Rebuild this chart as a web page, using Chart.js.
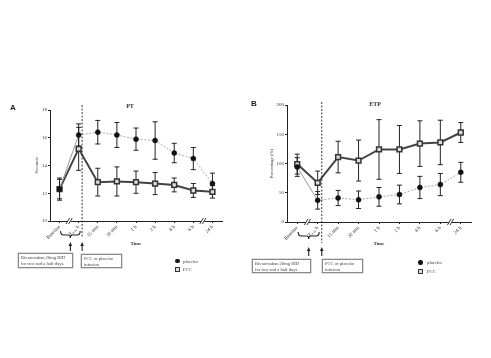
<!DOCTYPE html>
<html>
<head>
<meta charset="utf-8">
<script src="https://cdn.jsdelivr.net/npm/chart.js@4.4.1/dist/chart.umd.min.js"></script>
<style>
  body { margin: 0; background: #fff; }
  #page { position: relative; width: 491px; height: 358px; overflow: hidden; font-family: "Liberation Serif", serif; color: #333; }
  .abs { position: absolute; }
  .panel { position: absolute; top: 0; }
  .letter { font-family: "Liberation Sans", sans-serif; font-weight: bold; font-size: 8px; color: #222; }
  .title { font-weight: bold; font-size: 6px; transform: translateX(-50%); color: #333; }
  .box { border: 1px solid #888; box-shadow: 0 0 0 0.5px #bbb; font-size: 4.6px; line-height: 5.6px; padding: 1px 2px; box-sizing: border-box; color: #444; white-space: nowrap; }
  .leg { font-size: 4.8px; color: #444; line-height: 5px; }
  .dot { position: absolute; width: 4.5px; height: 4.5px; border-radius: 50%; background: #111; }
  .sq { position: absolute; width: 5px; height: 5px; border: 1.5px solid #333; background: #ddd; box-sizing: border-box; }
</style>
</head>
<body>
<div id="page">
  <canvas id="ptChart" class="panel" style="left:0" width="245" height="358"></canvas>
  <canvas id="etpChart" class="panel" style="left:245px" width="246" height="358"></canvas>

  <div class="abs letter" style="left:10px;top:103px">A</div>
  <div class="abs title" style="left:130px;top:103px">PT</div>
  <div class="abs letter" style="left:251px;top:99px">B</div>
  <div class="abs title" style="left:375px;top:101px">ETP</div>

  <div class="abs box" style="left:18px;top:253px;width:55px;height:15px">Rivaroxaban 20mg BID<br>for two and a half days.</div>
  <div class="abs box" style="left:81px;top:254px;width:41px;height:14px">PCC or placebo<br>infusion</div>
  <div class="abs box" style="left:252px;top:259px;width:59px;height:14px">Rivaroxaban 20mg BID<br>for two and a half days</div>
  <div class="abs box" style="left:322px;top:259px;width:41px;height:14px">PCC or placebo<br>infusion</div>

  <div class="dot" style="left:175px;top:258.5px"></div>
  <div class="abs leg" style="left:183px;top:258.5px">placebo</div>
  <div class="sq" style="left:174.5px;top:266.5px"></div>
  <div class="abs leg" style="left:183px;top:266.5px">PCC</div>

  <div class="dot" style="left:418px;top:260px"></div>
  <div class="abs leg" style="left:427px;top:260px">placebo</div>
  <div class="sq" style="left:417.5px;top:268.5px"></div>
  <div class="abs leg" style="left:427px;top:268.5px">PCC</div>
</div>
<script>
const timeLabels = ["Baseline", "Tₘₐₓ h", "15 min", "30 min", "1 h", "2 h", "4 h", "6 h", "24 h"];

// PT, seconds
const ptPlacebo = [12.3, 16.2, 16.4, 16.2, 15.9, 15.8, 14.9, 14.5, 12.7];
const ptPlaceboSd = [0.8, 0.8, 0.85, 0.9, 0.8, 1.35, 0.7, 0.8, 0.75];
const ptPcc = [12.3, 15.2, 12.8, 12.85, 12.8, 12.7, 12.6, 12.2, 12.1];
const ptPccSd = [0.7, 1.55, 1.0, 1.05, 0.8, 0.8, 0.5, 0.5, 0.45];
const ptTicks = [10, 12, 14, 16, 18];

// ETP, percentage of baseline
const etpPlacebo = [94, 37, 41, 38, 43, 47, 59, 64, 85];
const etpPlaceboSd = [16, 15, 13, 15, 16, 16, 19, 19, 17];
const etpPcc = [99, 67, 111, 105, 124, 124, 134, 136, 153];
const etpPccSd = [17, 20, 27, 35, 51, 41, 39, 38, 17];
const etpTicks = [0, 50, 100, 150, 200];

const tickFont = { family: "Liberation Serif", size: 5 };
const titleFont = { family: "Liberation Serif", size: 5, weight: "bold" };

// error bars drawn from the data through the y scale
const errorBars = {
  id: "errorBars",
  beforeDatasetsDraw(chart, args, opts) {
    const ctx = chart.ctx, y = chart.scales.y;
    ctx.save();
    ctx.strokeStyle = "#222";
    ctx.lineWidth = 1;
    chart.data.datasets.forEach((ds, di) => {
      const meta = chart.getDatasetMeta(di);
      ds.data.forEach((v, i) => {
        const px = meta.data[i].x, sd = opts.sd[di][i];
        const top = y.getPixelForValue(v + sd), bot = y.getPixelForValue(v - sd);
        ctx.beginPath();
        ctx.moveTo(px, top); ctx.lineTo(px, bot);
        ctx.moveTo(px - 2.5, top); ctx.lineTo(px + 2.5, top);
        ctx.moveTo(px - 2.5, bot); ctx.lineTo(px + 2.5, bot);
        ctx.stroke();
      });
    });
    ctx.restore();
  }
};

// axis breaks, infusion line, brace and arrows
const decor = {
  id: "decor",
  afterDraw(chart, args, o) {
    const ctx = chart.ctx, x = chart.scales.x, y = chart.scales.y;
    const step = x.getPixelForValue(1) - x.getPixelForValue(0);
    const axisY = y.bottom;
    ctx.save();
    ctx.strokeStyle = "#222";
    ctx.lineWidth = 0.9;
    o.breaks.forEach(i => {
      const bx = (x.getPixelForValue(i) + x.getPixelForValue(i + 1)) / 2;
      ctx.fillStyle = "#fff";
      ctx.fillRect(bx - 1.5, axisY - 2, 3, 4);
      [-1.3, 1.3].forEach(d => {
        ctx.beginPath();
        ctx.moveTo(bx + d - 1.8, axisY + 3);
        ctx.lineTo(bx + d + 1.8, axisY - 3);
        ctx.stroke();
      });
    });
    ctx.fillStyle = "#222";
    const vx = x.getPixelForValue(1) + step * o.vlineFrac;
    ctx.setLineDash([2, 1.5]);
    ctx.beginPath(); ctx.moveTo(vx, o.vTop); ctx.lineTo(vx, o.vBottom); ctx.stroke();
    ctx.setLineDash([]);
    const b0 = x.getPixelForValue(0) + 1, b1 = x.getPixelForValue(1) + 1.5, bm = (b0 + b1) / 2, by = o.braceY;
    ctx.lineWidth = 1.1;
    ctx.beginPath();
    ctx.moveTo(b0, by);
    ctx.quadraticCurveTo(b0, by + 4, b0 + 3, by + 4);
    ctx.lineTo(bm - 2, by + 4);
    ctx.quadraticCurveTo(bm, by + 4, bm, by + 7);
    ctx.quadraticCurveTo(bm, by + 4, bm + 2, by + 4);
    ctx.lineTo(b1 - 3, by + 4);
    ctx.quadraticCurveTo(b1, by + 4, b1, by);
    ctx.stroke();
    [bm, vx].forEach(ax => {
      ctx.beginPath();
      ctx.moveTo(ax, o.arrowBottom); ctx.lineTo(ax, o.arrowTop + 3);
      ctx.stroke();
      ctx.beginPath();
      ctx.moveTo(ax, o.arrowTop);
      ctx.lineTo(ax - 1.8, o.arrowTop + 4);
      ctx.lineTo(ax + 1.8, o.arrowTop + 4);
      ctx.closePath();
      ctx.fill();
    });
    ctx.restore();
  }
};

function makeChart(id, placebo, pcc, sds, yMin, yMax, yStep, yTitle, yWidth, xHeight, padding, decorOpts) {
  return new Chart(document.getElementById(id), {
    type: "line",
    data: {
      labels: timeLabels,
      datasets: [
        {
          label: "placebo",
          data: placebo,
          borderColor: "#999",
          borderWidth: 1,
          segment: {
            borderDash: c => (c.p0DataIndex >= 1 ? [2, 1.5] : undefined),
            borderColor: c => (c.p0DataIndex >= 1 ? "#aaa" : "#999")
          },
          pointStyle: "circle",
          pointRadius: 2.5,
          pointBackgroundColor: "#111",
          pointBorderColor: "#111",
          pointBorderWidth: 0.5,
          tension: 0
        },
        {
          label: "PCC",
          data: pcc,
          borderColor: "#444",
          borderWidth: 2,
          pointStyle: "rect",
          pointRadius: 3.4,
          pointBackgroundColor: "#ddd",
          pointBorderColor: "#333",
          pointBorderWidth: 1.5,
          tension: 0
        }
      ]
    },
    options: {
      responsive: false,
      animation: false,
      events: [],
      layout: { padding: padding },
      plugins: {
        legend: { display: false },
        tooltip: { enabled: false },
        errorBars: { sd: sds },
        decor: decorOpts
      },
      scales: {
        x: {
          type: "category",
          offset: true,
          grid: { drawOnChartArea: false, tickLength: 2, color: "#222" },
          border: { display: true, color: "#222", width: 1 },
          ticks: { font: tickFont, color: "#333", minRotation: 45, maxRotation: 45, padding: 1, autoSkip: false },
          title: { display: true, text: "Time", font: titleFont, color: "#333", padding: 0 },
          afterFit: s => { s.height = xHeight; }
        },
        y: {
          min: yMin,
          max: yMax,
          grid: { drawOnChartArea: false, tickLength: 2, color: "#222" },
          border: { display: true, color: "#222", width: 1 },
          ticks: { stepSize: yStep, font: tickFont, color: "#333", padding: 1 },
          title: { display: true, text: yTitle, font: { family: "Liberation Serif", size: 4.8 }, color: "#333", padding: 0 },
          afterFit: s => { s.width = yWidth; }
        }
      }
    },
    plugins: [errorBars, decor]
  });
}

makeChart("ptChart", ptPlacebo, ptPcc, [ptPlaceboSd, ptPccSd], ptTicks[0], ptTicks[ptTicks.length - 1], 2,
  "Seconds", 16, 26, { left: 34, right: 23, top: 110, bottom: 111 },
  { breaks: [0, 7], vlineFrac: 0.18, vTop: 105, vBottom: 238, braceY: 231, arrowTop: 242, arrowBottom: 251 });

makeChart("etpChart", etpPlacebo, etpPcc, [etpPlaceboSd, etpPccSd], etpTicks[0], etpTicks[etpTicks.length - 1], 50,
  "Percentage (%)", 18, 25, { left: 24, right: 20, top: 105, bottom: 111 },
  { breaks: [0, 7], vlineFrac: 0.2, vTop: 102, vBottom: 243, braceY: 232, arrowTop: 247, arrowBottom: 256 });
</script>
</body>
</html>
